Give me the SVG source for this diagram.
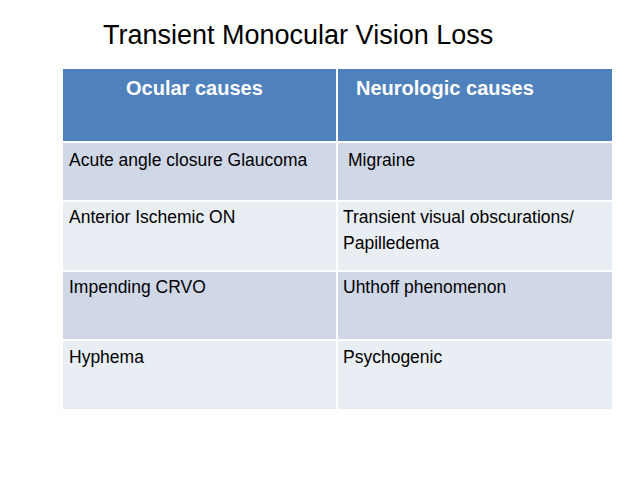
<svg xmlns="http://www.w3.org/2000/svg" width="638" height="478" viewBox="0 0 638 478">
<style>
.t{font-family:"Liberation Sans","Open Sans",sans-serif;font-size:17.5px;fill:#000}
.h{font-family:"Liberation Sans","Open Sans",sans-serif;font-size:20px;font-weight:bold;fill:#fff}
.hd{fill:#4F81BD}.o{fill:#D0D8E8}.e{fill:#E9EDF4}
</style>
<rect width="638" height="478" fill="#fff"/>
<text x="103" y="44" font-family="Liberation Sans,Open Sans,sans-serif" font-size="27" fill="#000">Transient Monocular Vision Loss</text>
<g id="header">
<rect class="hd" x="63" y="69" width="273" height="72"/>
<rect class="hd" x="338" y="69" width="274" height="72"/>
<text class="h" x="126" y="95">Ocular causes</text>
<text class="h" x="356" y="95">Neurologic causes</text>
</g>
<g id="row1">
<rect class="o" x="63" y="143" width="273" height="57"/>
<rect class="o" x="338" y="143" width="274" height="57"/>
<text class="t" x="69" y="166">Acute angle closure Glaucoma</text>
<text class="t" x="348" y="166">Migraine</text>
</g>
<g id="row2">
<rect class="e" x="63" y="202" width="273" height="68"/>
<rect class="e" x="338" y="202" width="274" height="68"/>
<text class="t" x="69" y="223">Anterior Ischemic ON</text>
<text class="t" x="343" y="223">Transient visual obscurations/</text>
<text class="t" x="343" y="249">Papilledema</text>
</g>
<g id="row3">
<rect class="o" x="63" y="272" width="273" height="67"/>
<rect class="o" x="338" y="272" width="274" height="67"/>
<text class="t" x="69" y="293">Impending CRVO</text>
<text class="t" x="343" y="293">Uhthoff  phenomenon</text>
</g>
<g id="row4">
<rect class="e" x="63" y="341" width="273" height="68"/>
<rect class="e" x="338" y="341" width="274" height="68"/>
<text class="t" x="69" y="363">Hyphema</text>
<text class="t" x="343" y="363">Psychogenic</text>
</g>
</svg>
